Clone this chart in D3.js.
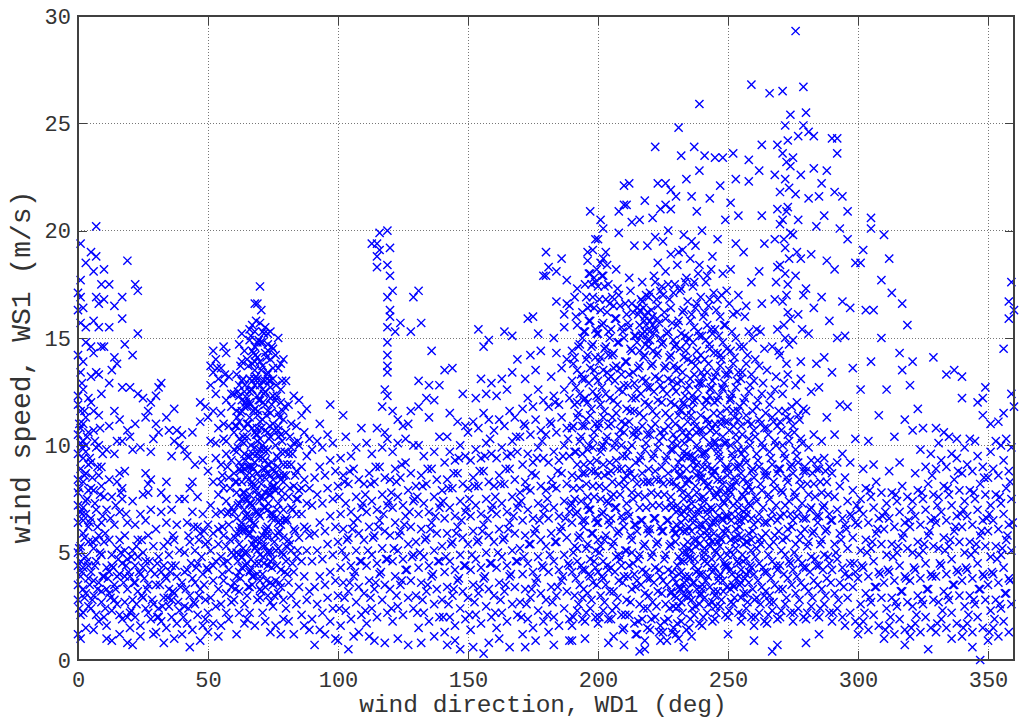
<!DOCTYPE html>
<html>
<head>
<meta charset="utf-8">
<script src="https://cdn.jsdelivr.net/npm/d3@7"></script>
<style>
  body { margin: 0; background: #fff; }
  text { font-family: "Liberation Mono", "Courier New", monospace; }
</style>
</head>
<body>
<svg id="chart"></svg>
<script>
// wind direction (deg), wind speed (m/s) pairs
const northPts = [
  0,1.2,1,2.1,0,2.8,2,3.3,1,3.9,0,4.4,3,4.8,1,5.3,2,5.9,0,6.4,4,6.2,1,6.9,3,7.4,0,7.8,2,8.3,1,8.9,4,9.1,0,9.6,2,10.2,1,10.8,
  3,11.3,0,11.9,2,12.6,1,13.4,0,14.2,3,14.8,1,15.7,2,16.4,0,17.1,4,2.5,3,3.1,4,3.8,2,4.3,4,5.5,3,6.8,2,7.1,4,7.9,3,8.7,2,9.4,
  3,10.0,4,10.6,2,11.0,0,12.3,1,16.9,3,18.5,1,19.4,0,5.0,0,3.5,1,4.6,2,2.2,3,1.5,1,1.0,0,8.4,1,10.1,0,10.5,2,13.9,4,12.2,3,15.5,
  1,17.7,0,16.3,4,4.4,2,6.5,0,7.2,3,9.7,1,11.6,
  5,2.4,6,3.0,7,2.1,8,3.6,9,2.7,5,4.1,7,4.6,6,5.2,9,4.9,8,5.8,5,6.6,7,7.0,9,6.4,6,7.9,8,8.6,5,9.2,9,9.0,7,9.9,6,10.7,8,11.4,
  5,12.0,9,12.4,7,13.4,6,14.3,9,14.6,5,14.6,8,15.5,6,15.8,10,16.8,8,16.6,5,19.0,7,18.8,6,18.1,10,18.2,9,17.5,7,20.2,6,3.7,8,1.8,
  10,3.9,10,5.5,10,7.6,9,8.1,6,11.6,8,13.3,5,13.2,7,16.9,10,14.6,9,3.2,7,5.6,5,8.0,8,10.0,6,1.4,
  11,1.6,13,2.3,12,3.1,15,2.6,17,1.9,18,2.7,14,3.5,16,4.0,19,3.3,11,4.3,13,4.9,17,4.5,19,4.7,12,5.6,15,5.2,18,5.8,14,6.3,11,7.0,
  16,6.9,19,6.4,13,7.6,17,7.5,12,8.4,15,8.3,18,8.8,16,8.7,14,9.6,11,9.8,17,10.2,15,10.2,12,10.9,19,10.7,14,11.6,16,11.2,12,12.9,
  13,13.5,15,13.8,18,14.7,17,12.7,14,14.1,12,15.5,17,15.9,17,16.9,19,18.6,12,17.5,14,16.5,11,1.0,16,1.2,19,0.8,13,0.9,10,2.0,
  15,3.9,18,3.9,20,2.2,12,4.1,18,5.1,17,8.0,16,2.1,14,2.8,19,2.0,13,4.4,16,5.6,11,3.3,
  20,1.5,22,2.0,24,1.6,26,2.4,28,1.9,21,2.8,23,3.2,25,2.9,27,3.5,29,2.6,20,3.9,22,4.4,24,4.0,26,4.6,28,4.2,21,5.1,23,5.6,25,5.0,
  27,5.8,29,5.3,22,6.3,24,6.8,26,6.5,28,7.0,21,7.4,25,7.7,27,7.8,26,8.7,28,8.4,27,8.2,24,9.9,21,9.8,28,9.7,20,10.4,22,11.0,
  26,11.3,28,12.0,27,11.6,25,12.2,23,12.4,21,14.2,23,15.2,22,17.5,23,17.2,20,12.7,29,10.3,24,1.1,21,0.7,29,1.2,23,4.8,27,2.2,
  22,3.6,25,4.3,
  30,1.3,32,1.8,34,1.5,36,2.0,38,1.7,31,2.4,33,2.9,35,2.5,37,3.1,39,2.3,30,3.5,32,4.1,34,3.8,36,4.4,38,3.9,31,4.8,33,5.3,35,4.9,
  37,5.6,39,5.1,30,6.1,34,6.4,32,6.9,36,7.0,38,6.3,34,7.5,32,7.8,31,10.6,30,11.0,31,12.7,32,12.9,30,12.3,34,11.3,37,10.2,38,10.7,
  35,10.7,39,10.0,36,9.5,37,11.7,34,8.3,39,7.5,33,0.8,37,1.0,35,3.3,31,2.0,36,2.8,33,4.4,
  40,1.2,42,1.7,44,1.4,46,2.1,48,1.6,41,2.5,43,3.0,45,2.6,47,3.3,49,2.8,40,3.6,42,4.2,44,3.8,46,4.5,48,4.0,41,5.0,43,5.5,45,5.1,
  47,5.9,49,5.4,42,6.4,44,6.9,46,6.2,48,6.8,41,7.5,43,8.0,44,8.3,46,7.6,42,9.5,41,9.8,40,10.5,44,10.6,47,12.0,49,11.8,47,11.1,
  45,9.1,48,9.3,43,0.6,47,0.9,49,1.9,45,3.6,41,4.1
];
const northCore = [
  0.5,2.4,2.5,2.9,4.5,3.5,1.5,4.1,3.5,4.6,0.5,5.2,2.5,5.7,4.5,6.4,1.5,6.8,3.5,7.5,0.5,8.0,2.5,8.6,4.5,9.4,1.5,9.9,3.5,10.4,
  0.5,11.0,2.5,11.6,1.5,12.9,5.5,2.8,7.5,3.3,9.5,3.9,6.5,4.4,8.5,5.0,5.5,5.5,7.5,6.2,9.5,6.7,6.5,7.3,8.5,7.7,5.5,8.5,7.5,9.0,
  9.5,9.6,6.5,10.2,8.5,10.8,10.5,2.4,12.5,2.9,14.5,3.3,11.5,3.8,13.5,4.3,15.5,4.7,17.5,3.6,19.5,4.1,16.5,5.0,18.5,4.4,10.5,5.9,
  12.5,6.6,14.5,7.2,16.5,7.8,18.5,6.8,20.5,2.3,22.5,2.6,24.5,3.0,26.5,3.3,28.5,2.8,21.5,3.6,23.5,4.1,25.5,3.8,27.5,4.6,29.5,4.0,
  20.5,4.8,22.5,5.3,24.5,5.6,30.5,2.0,32.5,2.5,34.5,2.9,36.5,3.2,38.5,2.7,31.5,3.5,33.5,3.9,35.5,4.1,37.5,4.4,39.5,3.4,30.5,4.5,
  34.5,5.5,36.5,5.8,40.5,2.0,42.5,2.4,44.5,2.7,46.5,3.0,48.5,3.5,41.5,3.3,43.5,4.5,45.5,4.3,47.5,4.8,49.5,4.3,42.5,5.8,46.5,5.6,
  44.5,6.2,48.5,6.0
];

const eastPts = [
  50,2.2,51,2.9,53,2.5,54,3.3,52,3.7,50,4.2,53,4.6,51,5.1,54,5.4,52,5.9,50,6.3,53,6.8,51,7.2,54,7.7,52,8.3,50,8.8,53,9.4,
  51,10.2,54,10.8,52,11.6,51,12.8,52,13.4,53,14.0,52,14.4,54,13.1,51,13.7,53,12.4,50,1.3,52,1.7,54,1.1,50,11.3,53,10.1,50,5.5,
  54,6.1,52,4.4,
  55,2.6,57,3.1,56,3.7,58,4.2,59,3.4,55,4.8,57,5.3,59,5.0,56,5.8,58,6.3,55,6.9,57,7.4,59,7.1,56,8.0,58,8.5,55,9.1,57,9.6,59,9.3,
  56,10.3,58,10.9,55,11.5,57,12.1,56,12.9,55,13.6,57,14.3,56,14.6,58,13.2,59,11.8,55,1.6,58,1.9,57,2.2,59,2.7,56,4.5,58,6.9,
  55,8.3,57,10.2,59,12.4,56,11.0,
  60,2.8,62,3.2,64,2.6,61,3.9,63,4.3,60,4.9,62,5.4,64,5.0,61,5.9,63,6.4,60,6.9,62,7.3,64,7.0,61,7.8,63,8.3,60,8.7,62,9.2,64,8.9,
  61,9.7,63,10.2,60,10.6,62,11.1,64,10.8,61,11.6,63,12.1,62,12.8,64,12.5,61,13.3,63,13.9,64,14.4,62,14.7,63,15.2,60,12.4,64,6.1,
  60,3.6,62,2.2,64,1.7,61,1.2,63,4.8,61,8.3,63,11.6,62,6.0,64,7.8,60,9.8,64,9.6,62,10.3,61,5.0,63,7.5,
  65,3.0,67,3.5,69,2.8,66,4.1,68,4.5,65,5.0,67,5.4,69,5.1,66,5.9,68,6.3,65,6.8,67,7.2,69,6.9,66,7.7,68,8.1,65,8.6,67,9.0,69,8.7,
  66,9.5,68,9.9,65,10.4,67,10.8,69,10.5,66,11.3,68,11.7,65,12.2,67,12.6,69,12.3,66,13.1,68,13.5,65,14.0,67,14.4,69,14.1,66,14.9,
  68,15.3,67,15.6,69,16.6,68,16.6,65,4.5,67,6.1,69,7.7,66,9.0,68,10.6,65,11.8,67,13.0,69,14.8,66,2.2,68,1.6,65,1.9,69,4.0,
  68,12.8,66,12.0,67,8.3,65,7.4,69,9.6,66,6.5,68,5.2,67,3.9,69,11.4,65,9.5,68,13.9,66,15.4,
  70,2.9,72,3.4,74,2.7,71,4.0,73,4.4,70,4.9,72,5.3,74,5.0,71,5.8,73,6.2,70,6.7,72,7.1,74,6.8,71,7.6,73,8.0,70,8.5,72,8.9,74,8.6,
  71,9.4,73,9.8,70,10.3,72,10.7,74,10.4,71,11.2,73,11.6,70,12.1,72,12.5,74,12.2,71,13.0,73,13.4,70,13.9,72,14.3,74,14.0,71,14.8,
  73,15.2,72,15.5,70,15.7,70,17.4,74,15.3,72,1.8,74,1.3,71,2.2,73,3.0,70,3.7,74,4.6,72,6.0,70,7.6,74,7.7,72,9.3,70,11.1,74,11.5,
  72,13.0,74,13.0,71,10.0,73,7.0,71,5.3,73,9.1,71,12.6,73,14.7,
  75,2.5,77,3.1,79,2.8,76,3.7,78,4.2,75,4.7,77,5.2,79,4.9,76,5.8,78,6.3,75,6.8,77,7.3,79,7.0,76,7.9,78,8.4,75,8.9,77,9.4,79,9.1,
  76,10.0,78,10.5,75,11.0,77,11.5,79,11.2,76,12.1,78,12.6,75,13.1,77,13.6,76,14.2,78,13.8,79,14.0,75,14.5,77,15.0,76,1.6,79,1.9,
  78,1.2,75,3.5,79,5.7,77,6.4,75,8.1,79,8.3,77,10.7,75,12.3,78,9.7,76,6.6,
  80,2.4,82,3.0,84,2.6,81,3.6,83,4.1,80,4.6,82,5.1,84,4.8,81,5.6,83,6.1,80,6.6,82,7.1,84,6.8,81,7.6,83,8.1,80,8.6,82,9.1,84,8.8,
  81,9.6,83,10.1,80,10.6,82,11.0,84,10.9,81,11.9,83,12.3,80,13.0,86,2.1,88,2.8,85,3.4,87,3.9,89,3.2,86,4.6,88,5.1,85,5.7,87,6.2,
  89,5.8,86,6.8,88,7.3,85,7.9,87,8.4,89,8.0,86,9.0,88,9.5,85,10.0,87,10.6,89,10.3,86,11.4,88,11.7,85,12.1,87,1.6,83,1.2,89,1.4,
  81,1.8,84,7.5,80,5.3,82,9.9,86,8.0,88,6.1,
  90,1.9,92,2.6,94,2.2,96,2.9,98,2.4,91,3.4,93,3.9,95,3.5,97,4.1,99,3.7,90,4.6,92,5.1,94,4.7,96,5.4,98,4.9,91,5.9,93,6.4,95,6.0,
  97,6.7,99,6.2,90,7.2,92,7.7,94,7.3,96,8.0,98,7.5,91,8.5,93,9.0,95,8.6,97,9.3,99,8.8,90,9.8,92,10.2,94,9.9,96,10.5,98,10.1,
  93,11.0,97,11.9,91,0.7,95,1.2,99,1.0,93,1.4,97,1.8
];
const eastCore = [
  62,4.1,66,3.4,70,3.3,74,3.6,78,3.4,61,6.6,65,6.1,69,5.6,73,5.7,77,5.9,63,9.0,67,8.6,71,8.9,75,8.4,79,8.6,61,10.9,65,11.0,
  69,10.2,73,10.6,77,10.9,62,12.3,66,12.5,70,12.8,74,12.7,78,12.0,63,13.0,67,13.8,71,13.7,75,13.6,64,11.8,68,9.2,72,7.8,76,8.7,
  70,9.8,66,7.3,72,11.9,68,14.6,71,15.3,69,13.1,73,5.0,
  60.5,3.3,62.5,3.8,64.5,4.4,61.5,4.6,63.5,5.2,60.5,5.7,62.5,6.2,64.5,6.7,61.5,7.2,63.5,7.8,60.5,8.3,62.5,8.8,64.5,9.3,61.5,9.9,
  63.5,10.4,60.5,10.9,62.5,11.5,64.5,12.0,61.5,12.5,63.5,13.1,62.5,13.7,65.5,3.4,67.5,3.9,69.5,4.5,66.5,4.7,68.5,5.3,65.5,5.8,
  67.5,6.4,69.5,6.8,66.5,7.3,68.5,7.9,65.5,8.4,67.5,8.9,69.5,9.4,66.5,10.0,68.5,10.5,65.5,11.0,67.5,11.6,69.5,12.1,66.5,12.6,
  68.5,13.2,65.5,13.7,67.5,14.3,69.5,14.9,66.5,15.1,68.5,15.8,70.5,3.2,72.5,3.7,74.5,4.3,71.5,4.5,73.5,5.1,70.5,5.6,72.5,6.1,
  74.5,6.6,71.5,7.1,73.5,7.7,70.5,8.2,72.5,8.7,74.5,9.2,71.5,9.8,73.5,10.3,70.5,10.8,72.5,11.4,74.5,11.9,71.5,12.4,73.5,13.0,
  70.5,13.5,72.5,14.1,74.5,14.6,71.5,15.2,70.5,16.3,75.5,3.0,77.5,3.6,79.5,4.1,76.5,4.4,78.5,5.0,75.5,5.5,77.5,6.0,79.5,6.5,
  76.5,7.0,78.5,7.6,75.5,8.1,77.5,8.6,79.5,9.7,76.5,9.5,78.5,10.2,75.5,10.7,77.5,11.3,79.5,11.8,76.5,12.3,78.5,13.0,80.5,4.0,
  82.5,4.5,84.5,5.1,81.5,5.4,83.5,6.0,80.5,6.5,82.5,7.0,84.5,7.5,81.5,8.0,83.5,8.6,80.5,9.1,82.5,9.6,84.5,10.2,81.5,10.4,
  55.5,4.0,57.5,4.6,58.5,5.6,55.5,6.2,57.5,6.8,58.5,8.0,55.5,8.6,57.5,9.0,56.5,13.3,53.5,13.6,
  61.8,4.9,63.2,6.0,64.8,7.5,62.2,8.9,63.8,10.1,61.2,11.3,64.2,12.8,66.2,4.2,67.8,5.6,68.2,6.9,66.8,8.1,67.2,9.6,68.8,10.8,
  66.2,11.9,67.8,13.1,68.2,14.2,71.2,4.8,72.8,5.9,73.2,7.3,71.8,8.5,72.2,9.7,73.8,10.9,71.2,12.0,72.8,13.3,73.2,14.4,76.2,5.1,
  77.8,6.5,78.2,7.9,76.8,9.0,77.2,10.4,78.8,11.6,76.2,12.8,65.2,9.0,69.8,7.4,74.8,8.0,70.2,14.8,69.2,11.6,65.8,6.7
];

const midPts = [
  101,1.6,103,2.3,105,1.9,107,2.7,109,2.1,100,3.0,102,3.6,104,3.2,106,3.9,108,3.4,101,4.3,103,4.8,105,4.4,107,5.1,109,4.6,
  100,5.5,102,6.1,104,5.7,106,6.4,108,5.9,101,6.8,103,7.3,105,6.9,107,7.6,109,7.1,100,8.1,102,8.6,104,8.2,106,8.9,108,8.4,
  105,9.5,101,9.4,107,9.9,103,10.4,109,10.8,104,0.5,100,0.9,106,1.1,108,1.3,102,11.4,
  111,1.7,113,2.4,115,2.0,117,2.8,119,2.2,110,3.1,112,3.7,114,3.3,116,4.0,118,3.5,111,4.4,113,4.9,115,4.5,117,5.2,119,4.7,
  110,5.6,112,6.2,114,5.8,116,6.5,118,6.0,111,6.9,113,7.4,115,7.0,117,7.7,119,7.2,110,8.2,112,8.7,114,8.3,116,9.0,118,8.5,
  113,9.6,117,9.9,111,10.1,119,10.3,115,10.8,112,1.1,118,0.8,114,0.9,
  117,11.8,119,12.3,118,12.6,119,13.4,119,13.7,119,14.2,119,14.8,122,15.3,120,16.0,119,15.5,120,16.3,119,16.9,121,17.2,120,17.9,
  115,18.3,119,18.4,115,18.8,116,19.1,120,19.2,113,19.4,115,19.4,116,19.9,119,20.0,124,15.7,128,15.3,132,15.7,129,16.9,131,17.2,
  118,10.6,121,11.6,123,11.2,125,10.9,
  121,1.8,123,2.5,125,2.1,127,2.9,129,2.4,120,3.3,122,3.9,124,3.5,126,4.2,128,3.7,121,4.6,123,5.1,125,4.7,127,5.4,129,4.9,
  120,5.8,122,6.4,124,6.0,126,6.7,128,6.2,121,7.1,123,7.6,125,7.2,127,7.9,129,7.4,120,8.4,122,8.9,124,8.5,126,9.2,128,8.7,
  121,9.7,123,10.1,127,11.0,126,10.3,129,10.0,128,11.6,123,1.0,127,0.7,
  131,1.5,133,2.2,135,1.8,137,2.6,139,2.0,130,3.0,132,3.6,134,3.2,136,3.9,138,3.3,131,4.3,133,4.8,135,4.4,137,5.1,139,4.6,
  130,5.5,132,6.1,134,5.7,136,6.4,138,5.9,131,6.8,133,7.3,135,6.9,137,7.6,139,7.1,130,8.1,132,8.6,134,8.2,136,8.9,138,8.4,
  133,9.5,137,9.7,131,10.0,139,10.4,135,11.3,134,12.2,137,12.1,131,13.0,135,12.8,139,12.8,136,14.4,132,0.8,137,1.1,131,11.8,
  141,1.3,143,2.0,145,1.6,147,2.4,149,1.9,140,2.8,142,3.4,144,3.0,146,3.7,148,3.2,141,4.1,143,4.6,145,4.2,147,4.9,149,4.4,
  140,5.3,142,5.9,144,5.5,146,6.2,148,5.7,141,6.6,143,7.1,145,6.7,147,7.4,149,6.9,140,7.9,142,8.4,144,8.0,146,8.7,148,8.2,
  141,9.2,143,9.7,145,9.3,147,10.0,149,9.5,142,10.4,146,11.1,149,10.9,143,11.5,148,12.4,141,13.5,144,13.6,142,0.7,147,0.5,145,0.9,
  151,1.4,153,2.1,155,1.7,157,2.5,159,2.0,150,2.9,152,3.5,154,3.1,156,3.8,158,3.3,151,4.2,153,4.7,155,4.3,157,5.0,159,4.5,
  150,5.4,152,6.0,154,5.6,156,6.3,158,5.8,151,6.7,153,7.2,155,6.8,157,7.5,159,7.0,150,8.0,152,8.5,154,8.1,156,8.8,158,8.3,
  151,9.3,153,9.8,155,9.4,157,10.1,159,9.6,150,10.6,152,11.1,154,10.8,156,11.5,158,11.2,153,12.2,157,12.4,155,13.1,159,12.9,
  154,15.4,158,14.9,156,14.6,152,0.6,156,0.3,158,0.8,
  161,1.5,163,2.2,165,1.8,167,2.6,169,2.1,160,3.0,162,3.6,164,3.2,166,3.9,168,3.4,161,4.3,163,4.8,165,4.4,167,5.1,169,4.6,
  160,5.5,162,6.1,164,5.7,166,6.4,168,5.9,161,6.8,163,7.3,165,6.9,167,7.6,169,7.1,160,8.1,162,8.6,164,8.2,166,8.9,168,8.4,
  161,9.4,163,9.9,165,9.5,167,10.2,169,9.7,160,10.7,162,11.2,164,10.9,166,11.6,168,11.3,161,12.3,165,12.6,163,13.1,167,13.4,
  164,15.3,167,15.1,169,14.0,162,1.0,166,0.6,
  171,1.2,173,1.9,175,1.5,177,2.3,179,1.8,170,2.7,172,3.3,174,2.9,176,3.6,178,3.1,171,4.0,173,4.5,175,4.1,177,4.8,179,4.3,
  170,5.2,172,5.8,174,5.4,176,6.1,178,5.6,171,6.5,173,7.0,175,6.6,177,7.3,179,6.8,170,7.8,172,8.3,174,7.9,176,8.6,178,8.1,
  171,9.1,173,9.6,175,9.2,177,9.9,179,9.4,170,10.4,172,10.9,174,10.5,176,11.2,178,10.7,171,11.7,173,12.2,175,11.8,177,12.6,
  179,12.1,172,13.1,176,13.5,174,14.2,178,14.4,173,15.9,175,16.0,177,15.2,179,17.9,172,0.6,176,0.9,
  181,1.3,183,2.0,185,1.6,187,2.4,189,1.9,180,2.8,182,3.4,184,3.0,186,3.7,188,3.2,181,4.1,183,4.6,185,4.2,187,4.9,189,4.4,
  180,5.3,182,5.9,184,5.5,186,6.2,188,5.7,181,6.6,183,7.1,185,6.7,187,7.4,189,6.9,180,7.9,182,8.4,184,8.0,186,8.7,188,8.2,
  181,9.2,183,9.7,185,9.3,187,10.0,189,9.5,180,10.5,182,11.0,184,10.6,186,11.3,188,10.8,181,11.8,183,12.3,185,11.9,187,12.6,
  189,12.2,182,13.2,186,13.6,184,14.3,188,14.0,183,15.0,187,15.5,189,16.5,180,19.0,186,18.7,181,18.3,184,18.1,180,17.9,188,17.7,
  184,16.7,188,16.6,187,16.1,183,0.7,189,0.9
];
const midCore = [
  100.5,2.4,102.5,2.9,104.5,3.6,106.5,4.1,108.5,4.6,101.5,5.1,103.5,5.6,105.5,6.1,107.5,6.6,109.5,7.3,100.5,7.6,102.5,8.3,104.5,8.8,
  110.5,2.3,112.5,2.9,114.5,3.6,116.5,4.1,118.5,4.7,111.5,5.1,113.5,5.7,115.5,6.2,117.5,6.8,119.5,7.4,110.5,7.7,112.5,8.2,114.5,9.0,
  120.5,2.4,122.5,3.0,124.5,3.7,126.5,4.2,128.5,4.8,121.5,5.2,123.5,5.8,125.5,6.3,127.5,6.9,129.5,7.5,120.5,7.8,122.5,8.3,124.5,9.1,
  130.5,2.2,132.5,2.8,134.5,3.5,136.5,4.0,138.5,4.6,131.5,5.0,133.5,5.6,135.5,6.1,137.5,6.7,139.5,7.3,130.5,7.6,132.5,8.1,134.5,8.9,
  140.5,2.0,142.5,2.6,144.5,3.3,146.5,3.8,148.5,4.4,141.5,4.8,143.5,5.4,145.5,5.9,147.5,6.5,149.5,7.1,140.5,7.4,142.5,8.0,144.5,8.7,
  146.5,9.4,150.5,2.1,152.5,2.7,154.5,3.4,156.5,3.9,158.5,4.5,151.5,4.9,153.5,5.5,155.5,6.0,157.5,6.6,159.5,7.2,150.5,7.5,152.5,8.1,
  154.5,8.8,156.5,9.5,158.5,10.3,160.5,2.2,162.5,2.8,164.5,3.5,166.5,4.0,168.5,4.6,161.5,5.0,163.5,5.6,165.5,6.1,167.5,6.7,
  169.5,7.3,160.5,7.6,162.5,8.2,164.5,8.9,166.5,9.6,168.5,10.4,170.5,2.0,172.5,2.6,174.5,3.3,176.5,3.8,178.5,4.4,171.5,4.8,
  173.5,5.4,175.5,5.9,177.5,6.5,179.5,7.1,170.5,7.4,172.5,8.0,174.5,8.7,176.5,9.4,178.5,10.2,171.5,11.0,180.5,2.1,182.5,2.7,
  184.5,3.4,186.5,3.9,188.5,4.5,181.5,4.9,183.5,5.5,185.5,6.0,187.5,6.6,189.5,7.2,180.5,7.5,182.5,8.1,184.5,8.8,186.5,9.5,
  188.5,10.3,181.5,11.1,183.5,12.0
];

const southPts = [
  190,1.6,192,2.3,194,1.9,191,3.0,193,3.5,190,4.1,192,4.6,194,4.2,191,5.3,193,5.8,190,6.4,192,6.9,194,6.5,191,7.5,193,8.0,
  190,8.6,192,9.1,194,8.7,191,9.7,193,10.2,190,10.8,192,11.3,194,10.9,191,11.9,193,12.4,190,13.0,192,13.5,194,13.1,191,14.1,
  193,14.7,192,15.6,194,16.2,191,16.9,192,17.3,190,0.9,194,2.9,192,5.2,190,7.3,194,9.6,192,12.0,190,14.4,194,15.0,
  195,1.8,197,2.4,199,2.0,196,3.1,198,3.6,195,4.2,197,4.7,199,4.3,196,5.4,198,5.9,195,6.5,197,7.0,199,6.6,196,7.6,198,8.1,
  195,8.7,197,9.2,199,8.8,196,9.8,198,10.3,195,10.9,197,11.4,199,11.0,196,12.0,198,12.5,195,13.1,197,13.6,199,13.2,196,14.2,
  198,14.7,195,15.3,197,15.8,199,15.4,196,16.4,198,16.9,195,17.5,197,18.0,199,17.6,196,18.6,198,19.1,197,20.9,199,19.6,196,19.0,
  195,1.0,197,3.9,199,5.1,196,7.2,198,9.9,195,12.2,199,14.1,197,16.5,
  200,1.7,202,2.3,204,1.9,201,3.0,203,3.5,200,4.1,202,4.6,204,4.2,201,5.3,203,5.8,200,6.4,202,6.9,204,6.5,201,7.5,203,8.0,
  200,8.6,202,9.1,204,8.7,201,9.7,203,10.2,200,10.8,202,11.3,204,10.9,201,11.9,203,12.4,200,13.0,202,13.5,204,13.1,201,14.1,
  203,14.6,200,15.2,202,15.7,204,15.3,201,16.3,203,16.8,200,17.4,202,17.9,204,17.5,201,18.5,203,19.0,200,19.6,202,20.1,201,20.5,
  204,0.8,202,3.8,200,5.6,204,7.3,202,10.0,200,12.2,204,14.2,202,18.7,
  205,1.9,207,2.5,209,2.1,206,3.2,208,3.7,205,4.3,207,4.8,209,4.4,206,5.5,208,6.0,205,6.6,207,7.1,209,6.7,206,7.7,208,8.2,
  205,8.8,207,9.3,209,8.9,206,9.9,208,10.4,205,11.0,207,11.5,209,11.1,206,12.1,208,12.6,205,13.2,207,13.7,209,13.3,206,14.3,
  208,14.8,205,15.4,207,15.9,209,15.5,206,16.5,208,17.0,207,18.2,208,20.9,208,19.9,210,21.2,206,1.1,208,4.9,205,7.6,209,10.0,
  206,13.6,
  210,1.5,212,2.1,214,1.7,211,2.8,213,3.3,210,3.9,212,4.4,214,4.0,211,5.1,213,5.6,210,6.2,212,6.7,214,6.3,211,7.3,213,7.8,
  210,8.4,212,8.9,214,8.5,211,9.5,213,10.0,210,10.6,212,11.1,214,10.7,211,11.7,213,12.2,210,12.8,212,13.3,214,12.9,211,13.9,
  213,14.4,210,15.0,212,15.5,214,15.1,211,16.1,213,16.6,212,17.8,211,21.2,210,22.1,212,22.2,214,19.3,213,20.4,210,0.7,213,5.0,
  211,8.6,214,11.6,
  215,1.2,217,1.9,219,1.5,216,2.6,218,3.1,215,3.7,217,4.2,219,3.8,216,4.9,218,5.4,215,6.0,217,6.5,219,6.1,216,7.1,218,7.6,
  215,8.2,217,8.7,219,8.3,216,9.3,218,9.8,215,10.4,217,10.9,219,10.5,216,11.5,218,12.0,215,12.6,217,13.1,219,12.7,216,13.7,
  218,14.2,215,14.8,217,15.2,219,14.9,216,15.6,218,16.0,215,16.4,217,16.7,219,16.2,216,14.4,218,15.3,220,15.8,217,17.6,219,19.3,
  216,20.5,218,21.4,218,0.5,218,0.9,216,0.4,219,2.4,
  220,1.4,222,2.0,224,1.6,221,2.7,223,3.2,220,3.8,222,4.3,224,3.9,221,5.0,223,5.5,220,6.1,222,6.6,224,6.2,221,7.2,223,7.7,
  220,8.3,222,8.8,224,8.4,221,9.4,223,9.9,220,10.5,222,11.0,224,10.6,221,11.6,223,12.1,220,12.7,222,13.2,224,12.8,221,13.8,
  223,14.3,220,14.9,222,15.4,224,15.0,221,16.0,223,16.5,220,17.1,222,17.6,224,17.2,221,15.6,223,18.5,222,19.7,224,21.0,223,22.2,
  226,22.2,222,23.9,221,20.6,224,0.9,
  225,1.3,227,1.9,229,1.5,226,2.6,228,3.1,225,3.7,227,4.2,229,3.8,226,4.9,228,5.4,225,6.0,227,6.5,229,6.1,226,7.1,228,7.6,
  225,8.2,227,8.7,229,8.3,226,9.3,228,9.8,225,10.4,227,10.9,229,10.5,226,11.5,228,12.0,225,12.6,227,13.1,229,12.7,226,13.7,
  228,14.2,225,14.8,227,15.3,229,14.9,226,15.9,228,16.4,225,17.0,227,17.5,229,17.1,226,18.1,228,18.9,227,20.0,228,21.9,228,21.0,
  226,21.2,225,19.5,229,2.5,
  230,1.2,232,1.8,234,1.4,231,2.5,233,3.0,230,3.6,232,4.1,234,3.7,231,4.8,233,5.3,230,5.9,232,6.4,234,6.0,231,7.0,233,7.5,
  230,8.1,232,8.6,234,8.2,231,9.2,233,9.7,230,10.3,232,10.8,234,10.4,231,11.4,233,11.9,230,12.5,232,13.0,234,12.6,231,13.6,
  233,14.1,230,14.7,232,15.2,234,14.8,231,15.8,233,16.3,232,17.3,234,17.8,231,19.0,233,19.8,231,24.8,232,23.5,230,21.6,234,22.4,
  230,2.4,232,3.3,234,5.0,230,6.9,232,9.4,234,11.4,230,13.5,232,2.7,234,7.1,231,1.0,233,0.6,
  235,1.5,237,2.1,239,1.7,236,2.8,238,3.3,235,3.9,237,4.4,239,4.0,236,5.1,238,5.6,235,6.2,237,6.7,239,6.3,236,7.3,238,7.8,
  235,8.4,237,8.9,239,8.5,236,9.5,238,10.0,235,10.6,237,11.1,239,10.7,236,11.7,238,12.2,235,12.8,237,13.3,239,12.9,236,13.9,
  238,14.4,235,15.0,237,15.5,239,15.1,236,16.1,238,16.6,237,17.6,239,18.4,236,19.5,238,20.9,239,22.8,237,23.9,239,25.9,236,21.6,
  235,3.1,237,5.6,239,7.5,235,9.5,237,12.1,239,2.6,236,1.1,
  240,1.6,242,2.2,244,1.8,241,2.9,243,3.4,240,4.0,242,4.5,244,4.1,241,5.2,243,5.7,240,6.3,242,6.8,244,6.4,241,7.4,243,7.9,
  240,8.5,242,9.0,244,8.6,241,9.6,243,10.1,240,10.7,242,11.2,244,10.8,241,11.8,243,12.3,240,12.9,242,13.4,244,13.0,241,14.0,
  243,14.5,240,15.1,242,15.6,244,15.2,241,16.2,243,16.8,242,17.9,244,18.8,240,20.0,243,21.5,241,23.5,245,23.4,240,3.3,242,5.8,
  244,7.0,240,9.6,242,12.1,244,2.7,
  245,1.9,247,2.5,249,2.1,246,3.2,248,3.7,245,4.3,247,4.8,249,4.4,246,5.5,248,6.0,245,6.6,247,7.1,249,6.7,246,7.7,248,8.2,
  245,8.8,247,9.3,249,8.9,246,9.9,248,10.4,245,11.0,247,11.5,249,11.1,246,12.1,248,12.6,245,13.2,247,13.7,249,13.3,246,14.3,
  248,14.8,245,15.4,247,16.0,249,15.6,246,16.8,248,18.0,246,19.6,249,20.5,247,22.1,248,23.4,245,3.0,247,5.7,249,7.8,245,10.1,
  250,2.0,252,2.6,254,2.2,251,3.3,253,3.8,250,4.4,252,4.9,254,4.5,251,5.6,253,6.1,250,6.7,252,7.2,254,6.8,251,7.8,253,8.3,
  250,8.9,252,9.4,254,9.0,251,10.0,253,10.5,250,11.1,252,11.6,254,11.2,251,12.2,253,12.7,250,13.3,252,13.8,254,13.4,251,14.4,
  253,15.0,252,16.1,254,17.0,251,18.2,253,19.4,251,21.3,252,23.6,253,22.4,254,20.7,250,1.2,252,3.5,254,5.8,
  255,1.8,257,2.4,259,2.0,256,3.1,258,3.6,255,4.2,257,4.7,259,4.3,256,5.4,258,5.9,255,6.5,257,7.0,259,6.6,256,7.6,258,8.1,
  255,8.7,257,9.2,259,8.8,256,9.8,258,10.3,255,10.9,257,11.4,259,11.0,256,12.0,258,12.5,255,13.1,257,13.8,259,13.3,256,14.6,
  258,15.3,257,16.5,259,17.6,256,19.0,258,22.3,258,23.3,259,26.8,255,2.9,257,5.5,259,7.9,
  231,3.4,233,4.6,235,4.8,237,3.6,239,5.4,241,4.6,243,6.2,245,5.1,247,4.0,249,5.9,251,4.2,253,5.2,255,3.6,257,4.0,259,5.6,
  232,6.8,236,6.0,240,7.1,244,5.5,248,6.5,252,8.1,256,6.9,234,8.9,238,9.1,242,8.1,246,8.4,250,7.5,254,9.8,258,7.3
];
const southCore = [
  190.5,2.0,192.5,2.6,194.5,3.3,191.5,3.8,193.5,4.4,190.5,5.0,192.5,5.7,194.5,6.2,191.5,6.8,193.5,7.4,190.5,8.0,192.5,8.5,
  194.5,9.1,191.5,9.7,193.5,10.4,190.5,10.9,192.5,11.5,194.5,12.1,191.5,12.7,193.5,13.3,190.5,13.8,192.5,14.6,194.5,15.3,191.5,16.0,
  195.5,2.2,197.5,2.8,199.5,3.5,196.5,4.0,198.5,4.6,195.5,5.2,197.5,5.9,199.5,6.4,196.5,7.0,198.5,7.6,195.5,8.2,197.5,8.8,
  199.5,9.3,196.5,10.0,198.5,10.6,195.5,11.2,197.5,11.7,199.5,12.3,196.5,12.9,198.5,13.5,195.5,14.0,197.5,14.6,199.5,15.2,
  196.5,15.8,198.5,16.4,195.5,16.9,197.5,17.5,199.5,18.2,196.5,18.0,198.5,17.8,
  200.5,2.0,202.5,2.7,204.5,3.2,201.5,3.9,203.5,4.4,200.5,5.0,202.5,5.6,204.5,6.3,201.5,6.8,203.5,7.4,200.5,8.1,202.5,8.6,
  204.5,9.2,201.5,9.9,203.5,10.4,200.5,11.0,202.5,11.6,204.5,12.2,201.5,12.7,203.5,13.4,200.5,13.9,202.5,14.5,204.5,15.0,
  201.5,15.6,203.5,16.2,200.5,16.8,202.5,17.4,204.5,16.6,201.5,17.9,203.5,18.4,
  205.5,2.3,207.5,2.9,209.5,3.6,206.5,4.1,208.5,4.7,205.5,5.3,207.5,5.9,209.5,6.5,206.5,7.1,208.5,7.7,205.5,8.3,207.5,8.9,
  209.5,9.5,206.5,10.1,208.5,10.7,205.5,11.3,207.5,11.9,209.5,12.5,206.5,13.0,208.5,13.6,205.5,14.2,207.5,14.8,209.5,15.3,
  206.5,15.9,208.5,16.5,205.5,16.9,207.5,17.3,209.5,1.4,
  210.5,2.1,212.5,2.7,214.5,3.4,211.5,3.9,213.5,4.5,210.5,5.1,212.5,5.8,214.5,6.3,211.5,6.9,213.5,7.5,210.5,8.1,212.5,8.7,
  214.5,9.2,211.5,9.8,213.5,10.5,210.5,11.0,212.5,11.6,214.5,12.2,211.5,12.8,213.5,13.4,210.5,13.9,212.5,14.5,214.5,15.1,
  211.5,15.7,213.5,16.2,210.5,16.6,212.5,17.2,214.5,1.2,
  215.5,1.8,217.5,2.4,219.5,3.0,216.5,3.5,218.5,4.1,215.5,4.7,217.5,5.3,219.5,5.9,216.5,6.5,218.5,7.1,215.5,7.7,217.5,8.3,
  219.5,8.9,216.5,9.5,218.5,10.1,215.5,10.7,217.5,11.3,219.5,11.9,216.5,12.4,218.5,13.0,215.5,13.6,217.5,14.1,219.5,14.6,
  216.5,15.1,218.5,15.6,215.5,16.1,217.5,16.4,219.5,16.9,216.5,16.8,218.5,17.0,
  220.5,1.9,222.5,2.5,224.5,3.1,221.5,3.6,223.5,4.2,220.5,4.8,222.5,5.4,224.5,6.0,221.5,6.6,223.5,7.2,220.5,7.8,222.5,8.4,
  224.5,9.0,221.5,9.6,223.5,10.2,220.5,10.8,222.5,11.4,224.5,12.0,221.5,12.5,223.5,13.1,220.5,13.7,222.5,14.2,224.5,14.7,
  221.5,15.2,223.5,15.7,220.5,16.3,222.5,16.8,224.5,17.4,221.5,17.9,223.5,1.3,
  225.5,1.8,227.5,2.4,229.5,3.0,226.5,3.5,228.5,4.1,225.5,4.7,227.5,5.3,229.5,5.9,226.5,6.5,228.5,7.1,225.5,7.7,227.5,8.3,
  229.5,8.9,226.5,9.5,228.5,10.1,225.5,10.7,227.5,11.3,229.5,11.9,226.5,12.4,228.5,13.0,225.5,13.6,227.5,14.1,229.5,14.6,
  226.5,15.2,228.5,15.7,225.5,16.2,227.5,16.8,229.5,17.5,226.5,0.9,228.5,1.3,
  230.5,1.7,232.5,2.2,234.5,2.9,231.5,3.3,233.5,3.9,230.5,4.4,232.5,5.0,234.5,5.5,231.5,6.1,233.5,6.6,230.5,7.2,232.5,7.8,
  234.5,8.4,231.5,8.9,233.5,9.5,230.5,10.0,232.5,10.6,234.5,11.1,231.5,11.7,233.5,12.3,230.5,12.9,232.5,13.4,234.5,14.0,
  231.5,14.5,233.5,15.1,230.5,15.6,232.5,16.2,234.5,16.7,231.5,17.2,233.5,17.6,230.5,18.4,232.5,19.1,
  235.5,1.9,237.5,2.5,239.5,3.1,236.5,3.6,238.5,4.2,235.5,4.7,237.5,5.3,239.5,5.8,236.5,6.4,238.5,7.0,235.5,7.5,237.5,8.1,
  239.5,8.7,236.5,9.2,238.5,9.8,235.5,10.3,237.5,10.9,239.5,11.4,236.5,12.0,238.5,12.6,235.5,13.1,237.5,13.7,239.5,14.2,
  236.5,14.8,238.5,15.3,235.5,15.8,237.5,16.4,239.5,16.9,236.5,17.4,238.5,18.0,235.5,18.7,237.5,19.3,
  240.5,2.0,242.5,2.6,244.5,3.2,241.5,3.7,243.5,4.3,240.5,4.8,242.5,5.4,244.5,5.9,241.5,6.5,243.5,7.1,240.5,7.6,242.5,8.2,
  244.5,8.8,241.5,9.3,243.5,9.9,240.5,10.4,242.5,11.0,244.5,11.5,241.5,12.1,243.5,12.7,240.5,13.2,242.5,13.8,244.5,14.3,
  241.5,14.9,243.5,15.4,240.5,16.0,242.5,16.5,244.5,17.1,241.5,17.6,243.5,18.2,
  245.5,2.2,247.5,2.8,249.5,3.4,246.5,3.9,248.5,4.5,245.5,5.0,247.5,5.6,249.5,6.1,246.5,6.7,248.5,7.3,245.5,7.8,247.5,8.4,
  249.5,9.0,246.5,9.5,248.5,10.1,245.5,10.6,247.5,11.2,249.5,11.7,246.5,12.3,248.5,12.9,245.5,13.4,247.5,14.0,249.5,14.5,
  246.5,15.1,248.5,15.6,245.5,16.3,247.5,17.0,249.5,17.2,
  250.5,2.3,252.5,2.9,254.5,3.5,251.5,4.0,253.5,4.6,250.5,5.1,252.5,5.7,254.5,6.2,251.5,6.8,253.5,7.4,250.5,7.9,252.5,8.5,
  254.5,9.1,251.5,9.6,253.5,10.2,250.5,10.7,252.5,11.3,254.5,11.8,251.5,12.4,253.5,13.0,250.5,13.5,252.5,14.1,254.5,14.6,
  251.5,15.3,253.5,16.2,250.5,16.6,
  255.5,2.1,257.5,2.7,259.5,3.3,256.5,3.8,258.5,4.4,255.5,4.9,257.5,5.5,259.5,6.0,256.5,6.6,258.5,7.2,255.5,7.7,257.5,8.3,
  259.5,8.9,256.5,9.4,258.5,10.0,255.5,10.5,257.5,11.1,259.5,11.6,256.5,12.2,258.5,12.8,255.5,13.4,257.5,14.2,259.5,15.0,256.5,16.0,
  230.2,2.9,233.2,3.6,236.2,2.4,239.2,3.0,242.2,3.9,245.2,2.5,248.2,3.2,251.2,2.7,254.2,3.9,257.2,3.1,260.2,2.8,231.8,4.6,
  234.8,5.2,237.8,4.1,240.8,5.0,243.8,4.7,246.8,5.3,249.8,4.9,252.8,5.5,255.8,4.6,258.8,5.1,230.2,6.3,233.2,6.9,236.2,6.6,
  239.2,6.1,242.2,7.0,245.2,6.4,248.2,7.4,251.2,6.5,254.2,7.1,257.2,6.8,231.8,8.0,234.8,7.7,237.8,8.6,240.8,8.3,243.8,8.9,
  246.8,7.9,249.8,8.6,252.8,9.0,255.8,8.4,233.2,10.1,237.8,10.6,241.2,9.7,244.8,10.2,247.2,11.0,236.2,12.3,239.8,13.4,
  243.2,12.6,231.8,11.6,228.8,9.8,
  228.2,3.2,231.2,4.0,234.2,3.3,237.2,4.7,240.2,3.5,243.2,5.3,246.2,3.7,249.2,4.3,252.2,3.4,255.2,5.7,258.2,4.1,229.8,5.5,
  232.8,6.0,235.8,7.0,238.8,6.8,241.8,6.0,244.8,7.6,247.8,6.6,250.8,8.1,253.8,6.5,256.8,7.9,228.2,7.3,231.2,8.6,234.2,9.6,
  237.2,9.4,240.2,9.0,243.2,10.7,246.2,9.7,249.2,10.1,252.2,10.9,255.2,9.6,229.8,11.0,232.8,12.0,235.8,11.4,238.8,12.9,
  241.8,11.2,244.8,12.0,247.8,12.7,250.8,12.1,253.8,11.6,229.2,13.7,233.8,14.4,238.2,14.0,242.8,14.7,247.2,14.2,221.2,14.4,
  222.8,15.9,217.8,15.8,216.2,16.3,219.8,15.3,218.2,14.7
];

const westPts = [
  260,1.6,262,2.2,264,1.8,261,2.9,263,3.4,260,4.0,262,4.5,264,4.1,261,5.2,263,5.7,260,6.3,262,6.8,264,6.4,261,7.4,263,7.9,
  260,8.5,262,9.0,264,8.6,261,9.6,263,10.1,260,10.7,262,11.2,264,10.8,261,11.8,263,12.4,260,13.0,262,13.7,264,14.5,261,15.4,
  263,16.6,262,18.1,264,19.4,263,20.7,262,22.8,263,24.0,260,0.9,264,3.0,262,5.6,
  265,1.7,267,2.3,269,1.9,266,3.0,268,3.5,265,4.1,267,4.6,269,4.2,266,5.3,268,5.8,265,6.4,267,6.9,269,6.5,266,7.5,268,8.0,
  265,8.6,267,9.1,269,8.7,266,9.7,268,10.2,265,10.8,267,11.3,269,10.9,266,11.9,268,12.6,265,13.5,267,14.6,269,15.4,268,16.8,
  269,18.3,268,19.6,269,21.0,266,26.4,269,24.0,268,22.6,267,0.4,269,0.7,266,2.7,
  270,2.0,272,2.6,274,2.2,271,3.3,273,3.8,270,4.4,272,4.9,274,4.5,271,5.6,273,6.1,270,6.7,272,7.2,274,6.8,271,7.8,273,8.3,
  270,8.9,272,9.4,274,9.0,271,10.0,273,10.5,270,11.1,272,11.6,274,11.2,271,12.4,273,13.3,270,14.2,272,15.0,274,15.9,271,16.7,
  273,17.5,270,18.4,272,19.2,274,19.9,271,20.5,273,21.1,270,21.8,272,22.4,274,23.0,271,23.6,273,24.2,272,24.9,274,25.4,270,20.3,
  272,18.0,271,26.5,273,16.2,
  275,1.8,277,2.4,279,2.0,276,3.1,278,3.6,275,4.2,277,4.7,279,4.3,276,5.4,278,5.9,275,6.5,277,7.0,279,6.6,276,7.6,278,8.1,
  275,8.7,277,9.2,279,8.8,276,9.8,278,10.3,275,10.9,277,11.4,279,11.7,276,12.8,278,13.9,275,14.9,277,16.1,279,17.0,276,17.9,
  278,18.7,275,19.8,277,20.5,276,21.7,278,22.6,275,23.4,277,24.4,279,24.9,280,25.5,279,26.7,276,29.3,278,13.1,
  280,1.9,282,2.5,284,2.1,281,3.2,283,3.7,280,4.3,282,4.8,284,4.4,281,5.5,283,6.0,280,6.6,282,7.1,284,6.7,281,7.7,283,8.2,
  280,8.8,282,9.3,284,8.9,281,9.9,283,10.5,280,11.6,282,12.5,284,13.8,281,15.2,283,16.4,280,17.3,282,18.9,284,20.2,281,21.5,
  283,22.9,281,24.6,283,24.4,285,21.6,280,0.8,
  285,2.0,287,2.6,289,2.2,286,3.3,288,3.8,285,4.4,287,4.9,289,4.5,286,5.6,288,6.1,285,6.7,287,7.2,289,6.8,286,7.8,288,8.3,
  285,8.9,287,9.4,289,9.0,286,10.2,288,11.3,285,12.7,287,14.1,289,15.8,286,16.9,288,18.6,287,20.7,288,22.8,286,22.2,290,24.3,
  285,1.2,
  290,1.8,292,2.4,294,2.0,291,3.1,293,3.6,290,4.2,292,4.7,294,4.3,291,5.4,293,5.9,290,6.5,292,7.0,294,6.6,291,7.6,293,8.1,
  290,8.7,292,9.2,294,9.6,291,10.5,293,11.9,290,13.4,292,15.0,294,16.7,291,18.2,293,20.1,292,23.6,292,24.3,294,21.6,291,21.8,
  295,1.6,297,2.2,299,1.8,296,2.9,298,3.4,295,4.0,297,4.5,299,4.1,296,5.2,298,5.7,295,6.3,297,6.8,299,6.4,296,7.4,298,7.9,
  295,8.5,297,9.2,299,10.3,296,11.8,298,13.6,295,15.1,297,16.4,299,18.5,296,19.6,296,20.9,
  300,1.2,302,1.8,304,1.4,306,2.1,308,1.6,301,2.6,303,3.1,305,2.7,307,3.4,309,2.9,300,3.8,302,4.3,304,3.9,306,4.6,308,4.1,
  301,5.1,303,5.6,305,5.2,307,5.9,309,5.4,300,6.3,302,6.8,304,6.4,306,7.1,308,6.6,301,7.5,303,8.0,305,7.6,307,8.3,309,7.8,
  302,8.9,306,9.1,304,10.2,308,11.4,301,12.6,305,13.9,309,15.0,303,16.3,306,16.3,302,19.1,305,20.1,305,20.6,301,18.5,309,17.7,
  310,1.0,312,1.6,314,1.2,316,1.9,318,1.4,311,2.4,313,2.9,315,2.5,317,3.2,319,2.7,310,3.6,312,4.1,314,3.7,316,4.4,318,3.9,
  311,4.9,313,5.4,315,5.0,317,5.7,319,5.2,310,6.1,312,6.6,314,6.2,316,6.9,318,6.4,311,7.3,313,7.8,315,7.4,317,8.1,319,7.6,
  312,8.8,316,9.2,314,10.4,318,11.2,311,12.6,316,14.3,317,13.5,319,15.6,313,17.1,317,16.6,310,19.8,312,18.7,318,0.7,
  320,1.1,322,1.7,324,1.3,326,2.0,328,1.5,321,2.5,323,3.0,325,2.6,327,3.3,329,2.8,320,3.7,322,4.2,324,3.8,326,4.5,328,4.0,
  321,5.0,323,5.5,325,5.1,327,5.8,329,5.3,320,6.2,322,6.7,324,6.3,326,7.0,328,6.5,321,7.4,323,7.9,325,7.5,327,8.2,329,7.7,
  322,8.7,326,9.0,324,9.8,328,9.6,321,10.7,323,11.7,320,12.8,321,13.9,329,14.1,325,10.8,327,0.5,
  330,1.3,332,1.9,334,1.5,336,2.2,338,1.7,331,2.7,333,3.2,335,2.8,337,3.5,339,3.0,330,3.9,332,4.4,334,4.0,336,4.7,338,4.2,
  331,5.2,333,5.7,335,5.3,337,6.0,339,5.5,330,6.4,332,6.9,334,6.5,336,7.2,338,6.7,331,7.6,333,8.1,335,7.7,337,8.4,339,7.9,
  330,8.9,332,9.3,334,9.0,336,9.6,338,9.4,331,10.1,335,10.4,333,10.6,338,10.3,334,13.3,337,13.5,340,13.2,330,10.8,336,1.0,
  340,1.1,342,1.7,344,1.3,346,2.0,348,1.5,341,2.5,343,3.0,345,2.6,347,3.3,349,2.8,340,3.7,342,4.2,344,3.8,346,4.5,348,4.0,
  341,5.0,343,5.5,345,5.1,347,5.8,349,5.3,340,6.2,342,6.7,344,6.3,346,7.0,348,6.5,341,7.4,343,7.9,345,7.5,347,8.2,349,7.7,
  340,8.7,342,9.1,344,8.8,346,9.5,348,9.0,341,9.9,345,10.2,343,10.3,348,12.2,346,12.0,349,12.7,340,12.2,347,0.0,344,0.6,348,11.4,
  350,0.9,352,1.5,354,1.1,356,1.8,358,1.3,351,2.3,353,2.8,355,2.4,357,3.1,359,2.6,350,3.5,352,4.0,354,3.6,356,4.3,358,3.8,
  351,4.8,353,5.3,355,4.9,357,5.6,359,5.1,350,6.0,352,6.5,354,6.1,356,6.8,358,6.3,351,7.2,353,7.7,355,7.3,357,8.0,359,7.5,
  350,8.5,352,8.9,354,8.6,356,9.3,358,8.8,351,9.7,355,10.0,353,10.2,357,10.3,359,9.9,351,11.0,354,11.1,356,11.5,359,12.4,
  356,14.5,359,17.6,358,16.7,360,16.3,358,15.9,360,11.8
];
const westCore = [
  260.5,2.0,262.5,2.6,264.5,3.2,261.5,3.7,263.5,4.3,260.5,4.8,262.5,5.4,264.5,5.9,261.5,6.5,263.5,7.1,260.5,7.6,262.5,8.2,
  264.5,8.8,261.5,9.3,263.5,9.9,260.5,10.4,262.5,11.0,264.5,11.5,261.5,12.1,263.5,12.9,260.5,14.0,262.5,15.3,
  265.5,2.1,267.5,2.7,269.5,3.3,266.5,3.8,268.5,4.4,265.5,4.9,267.5,5.5,269.5,6.0,266.5,6.6,268.5,7.2,265.5,7.7,267.5,8.3,
  269.5,8.9,266.5,9.4,268.5,10.0,265.5,10.5,267.5,11.1,269.5,11.6,266.5,12.3,268.5,13.2,269.5,14.4,268.5,17.6,
  270.5,2.3,272.5,2.9,274.5,3.5,271.5,4.0,273.5,4.6,270.5,5.1,272.5,5.7,274.5,6.2,271.5,6.8,273.5,7.4,270.5,7.9,272.5,8.5,
  274.5,9.1,271.5,9.6,273.5,10.2,270.5,10.7,272.5,11.3,274.5,11.8,271.5,12.9,272.5,13.8,273.5,14.7,271.5,15.6,272.5,17.0,
  273.5,18.7,271.5,19.6,272.5,20.9,273.5,22.0,272.5,23.2,
  275.5,2.2,277.5,2.8,279.5,3.4,276.5,3.9,278.5,4.5,275.5,5.0,277.5,5.6,279.5,6.1,276.5,6.7,278.5,7.3,275.5,7.8,277.5,8.4,
  279.5,9.0,276.5,9.5,278.5,10.1,275.5,10.6,277.5,11.2,276.5,12.0,278.5,15.4,276.5,19.0,
  280.5,2.2,282.5,2.9,284.5,3.5,281.5,4.1,283.5,4.7,280.5,5.3,282.5,5.9,284.5,6.4,281.5,7.0,283.5,7.6,280.5,8.2,282.5,8.7,
  284.5,9.3,285.5,2.4,287.5,3.0,289.5,3.6,286.5,4.2,288.5,4.8,285.5,5.4,287.5,6.0,289.5,6.5,286.5,7.1,288.5,7.7,285.5,8.3,287.5,8.8,
  290.5,2.2,292.5,2.8,294.5,3.4,296.5,3.9,298.5,4.5,291.5,5.0,293.5,5.6,295.5,6.1,297.5,6.7,299.5,7.2,
  300.5,1.6,302.5,2.2,304.5,2.9,306.5,3.4,308.5,4.0,301.5,4.4,303.5,5.0,305.5,5.5,307.5,6.1,309.5,6.7,300.5,7.0,304.5,7.9,
  310.5,1.4,312.5,2.0,314.5,2.7,316.5,3.2,318.5,3.8,311.5,4.2,313.5,4.8,315.5,5.3,317.5,5.9,319.5,6.5,310.5,6.9,314.5,7.7,
  320.5,1.5,322.5,2.1,324.5,2.8,326.5,3.3,328.5,3.9,321.5,4.3,323.5,4.9,325.5,5.4,327.5,6.0,329.5,6.6,320.5,7.0,324.5,7.8,328.5,8.6,
  330.5,1.7,332.5,2.3,334.5,3.0,336.5,3.5,338.5,4.1,331.5,4.5,333.5,5.1,335.5,5.6,337.5,6.2,339.5,6.8,330.5,7.2,334.5,8.0,338.5,8.8,
  340.5,1.5,342.5,2.1,344.5,2.8,346.5,3.3,348.5,3.9,341.5,4.3,343.5,4.9,345.5,5.4,347.5,6.0,349.5,6.6,340.5,7.0,344.5,7.8,348.5,8.5,
  350.5,1.3,352.5,1.9,354.5,2.6,356.5,3.1,358.5,3.7,351.5,4.1,353.5,4.7,355.5,5.2,357.5,5.8,359.5,6.4,350.5,6.8,354.5,7.6,358.5,8.3
];

const xTicks = [0, 50, 100, 150, 200, 250, 300, 350];
const yTicks = [0, 5, 10, 15, 20, 25, 30];
const xTitle = "wind direction, WD1 (deg)";
const yTitle = "wind speed, WS1 (m/s)";

const W = 1024, H = 725;
const plot = { left: 78, right: 1014, top: 16, bottom: 660 };
const axisColor = "#404040";
const textColor = "#333";

const svg = d3.select("#chart").attr("width", W).attr("height", H);

const x = d3.scaleLinear().domain([0, 360]).range([plot.left, plot.right]);
const y = d3.scaleLinear().domain([0, 30]).range([plot.bottom, plot.top]);

// dotted grid
const grid = svg.append("g").attr("class", "grid")
  .attr("stroke", "#777").attr("stroke-dasharray", "1,2").attr("shape-rendering", "crispEdges");
grid.selectAll(".gx").data(xTicks.filter(d => d > 0)).join("line")
  .attr("x1", d => x(d)).attr("x2", d => x(d))
  .attr("y1", plot.top).attr("y2", plot.bottom);
grid.selectAll(".gy").data(yTicks.filter(d => d > 0 && d < 30)).join("line")
  .attr("x1", plot.left).attr("x2", plot.right)
  .attr("y1", d => y(d)).attr("y2", d => y(d));

// points
const toPairs = arr => d3.range(0, arr.length, 2).map(i => [arr[i], arr[i + 1]]);
const points = [northPts, northCore, eastPts, eastCore, midPts, midCore, southPts, southCore, westPts, westCore]
  .flatMap(toPairs);
const s = 4.1;
svg.append("g").attr("class", "points")
  .selectAll("path").data(points).join("path")
  .attr("transform", d => `translate(${x(d[0])},${y(d[1])})`)
  .attr("d", `M${-s},${-s}L${s},${s}M${-s},${s}L${s},${-s}`)
  .attr("fill", "none")
  .attr("stroke", "#0000ff")
  .attr("stroke-width", 1.4);

// axes, ticks pointing inwards
function styleAxis(g) {
  g.select(".domain").remove();
  g.selectAll(".tick line").attr("stroke", axisColor).attr("shape-rendering", "crispEdges");
  g.selectAll(".tick text").attr("fill", textColor).attr("font-size", 22)
    .attr("font-family", "'Liberation Mono', 'Courier New', monospace");
}
svg.append("g").attr("transform", `translate(0,${plot.bottom})`)
  .call(d3.axisBottom(x).tickValues(xTicks).tickSizeInner(-9).tickSizeOuter(0).tickPadding(11))
  .call(styleAxis);
svg.append("g").attr("transform", `translate(0,${plot.top})`)
  .call(d3.axisTop(x).tickValues(xTicks).tickSizeInner(-9).tickSizeOuter(0).tickFormat(""))
  .call(styleAxis);
svg.append("g").attr("transform", `translate(${plot.left},0)`)
  .call(d3.axisLeft(y).tickValues(yTicks).tickSizeInner(-9).tickSizeOuter(0).tickPadding(7))
  .call(styleAxis);
svg.append("g").attr("transform", `translate(${plot.right},0)`)
  .call(d3.axisRight(y).tickValues(yTicks).tickSizeInner(-9).tickSizeOuter(0).tickFormat(""))
  .call(styleAxis);

// frame
svg.append("rect")
  .attr("x", plot.left).attr("y", plot.top)
  .attr("width", plot.right - plot.left).attr("height", plot.bottom - plot.top)
  .attr("fill", "none").attr("stroke", axisColor).attr("stroke-width", 1.3)
  .attr("shape-rendering", "crispEdges");

// axis titles
svg.append("text")
  .attr("x", 543).attr("y", 712)
  .attr("text-anchor", "middle").attr("fill", textColor).attr("font-size", 24.5)
  .text(xTitle);
svg.append("text")
  .attr("transform", "translate(30,367) rotate(-90)")
  .attr("text-anchor", "middle").attr("fill", textColor).attr("font-size", 28)
  .text(yTitle);
</script>
</body>
</html>
